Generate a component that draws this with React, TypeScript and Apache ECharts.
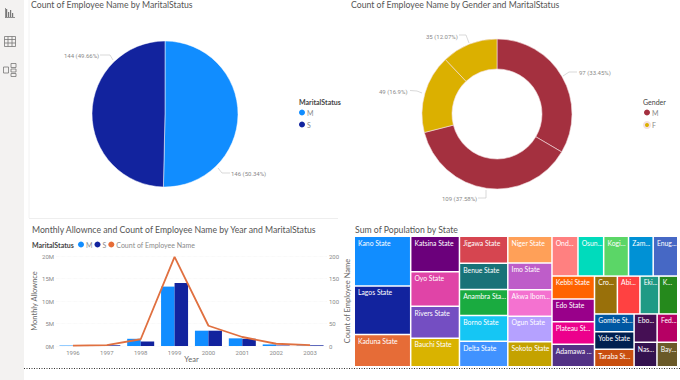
import React, { useEffect, useRef } from "react";
import * as echarts from "echarts";

const FONT = "Lato";
const NUM_FONT = "Roboto";
const TITLE_COLOR = "#555555";
const LABEL_COLOR = "#8a8a8a";
const LEADER_COLOR = "#c8c8c8";

const maritalNames = ["M", "S"];
const maritalCounts = [146, 144];
const maritalColors = ["#118dff", "#12239e"];

const genderNames = ["M", "M ", "F", "F "];
const genderCounts = [97, 109, 49, 35];
const genderColors = ["#a4303f", "#a4303f", "#dbb000", "#dbb000"];

const years = ["1996", "1997", "1998", "1999", "2000", "2001", "2002", "2003"];
const allowanceM = [100000, 50000, 1600000, 13200000, 3400000, 1700000, 350000, 100000];
const allowanceS = [0, 150000, 1000000, 14000000, 3400000, 1600000, 100000, 150000];
const employeeCount = [1, 2, 15, 198, 45, 20, 5, 2];

const stateNames = ["Kano State", "Lagos State", "Kaduna State", "Katsina State", "Oyo State", "Rivers State", "Bauchi State", "Jigawa State", "Benue State", "Anambra State", "Borno State", "Delta State", "Niger State", "Imo State", "Akwa Ibom State", "Ogun State", "Sokoto State", "Ondo State", "Osun State", "Kogi State", "Zamfara State", "Enugu State", "Kebbi State", "Edo State", "Plateau State", "Adamawa State", "Cross River State", "Abia State", "Ekiti State", "Kwara State", "Gombe State", "Yobe State", "Taraba State", "Ebonyi State", "Federal Capital Territory", "Nasarawa State", "Bayelsa State"];
const statePopulation = [9400000, 9100000, 6100000, 5800000, 5600000, 5200000, 4650000, 4360000, 4250000, 4180000, 4170000, 4110000, 3950000, 3930000, 3920000, 3750000, 3700000, 3460000, 3420000, 3310000, 3280000, 3270000, 3260000, 3230000, 3200000, 3180000, 2890000, 2850000, 2400000, 2380000, 2360000, 2320000, 2300000, 2180000, 1950000, 1870000, 1700000];
const stateColors = ["#118dff", "#12239e", "#e66c37", "#6b007b", "#e044a7", "#744ec2", "#d9b300", "#d64550", "#197278", "#1aab40", "#15c6f4", "#4092ff", "#ffa058", "#be5dc9", "#f472d0", "#b5a1ff", "#c4a200", "#ff8080", "#00dbbc", "#5bd667", "#0091d5", "#4668c5", "#ff6300", "#99008a", "#ec008c", "#533285", "#99700a", "#ff4141", "#1f9a85", "#25891c", "#0057a2", "#002050", "#c94f0f", "#450f54", "#b60064", "#34124f", "#6a5a29"];

const leftLabelPos = [{ x: 231, y: 173 }, { x: 64, y: 55 }];
const rightLabelPos = [{ x: 579, y: 72 }, { x: 442, y: 198 }, { x: 379, y: 91 }, { x: 426, y: 36 }];

const leaderLines = [
  [[100, 55], [110, 55], [113, 60]],
  [[218, 168], [222, 173], [230, 173]],
  [[563, 76], [569, 72], [577, 72]],
  [[478, 198], [486, 198], [486, 190]],
  [[410, 90.5], [417, 91], [422, 93]],
  [[459, 35], [466, 35], [469, 43]],
];

const titles = [
  { text: "Count of Employee Name by MaritalStatus", left: 31, top: 0 },
  { text: "Count of Employee Name by Gender and MaritalStatus", left: 351, top: 0 },
  { text: "Monthly Allownce and Count of Employee Name by Year and MaritalStatus", left: 32, top: 225 },
  { text: "Sum of Population by State", left: 355, top: 225 },
];

const iconStroke = { stroke: "#777777", lineWidth: 0.8, fill: "none" };

function sidebarIcons() {
  const els: any[] = [];
  [[6, 8], [8, 5], [10, 7], [12, 4]].forEach(([x, h]) =>
    els.push({ type: "rect", silent: true, shape: { x, y: 17 - h, width: 1.2, height: h }, style: { fill: "#777777" } }));
  els.push({ type: "line", silent: true, shape: { x1: 5, y1: 17.5, x2: 15, y2: 17.5 }, style: iconStroke });
  els.push({ type: "line", silent: true, shape: { x1: 5.5, y1: 8, x2: 5.5, y2: 17.5 }, style: iconStroke });
  els.push({ type: "rect", silent: true, shape: { x: 4.5, y: 36.5, width: 11, height: 10 }, style: iconStroke });
  [39.5, 43].forEach((y) => els.push({ type: "line", silent: true, shape: { x1: 4.5, y1: y, x2: 15.5, y2: y }, style: iconStroke }));
  [8, 12].forEach((x) => els.push({ type: "line", silent: true, shape: { x1: x, y1: 36.5, x2: x, y2: 46.5 }, style: iconStroke }));
  [[3.5, 67, 5, 6], [11, 63.5, 5, 4], [11, 69, 5, 3], [11, 73.5, 5, 3]].forEach(([x, y, width, height]) =>
    els.push({ type: "rect", silent: true, shape: { x, y, width, height }, style: iconStroke }));
  return els;
}

export default function App() {
  const ref = useRef<HTMLDivElement>(null);
  useEffect(() => {
    const chart = echarts.init(ref.current!, undefined, { renderer: "svg" });
    const pieLabel = { formatter: "{c} ({d}%)", fontSize: 6, width: 50, color: LABEL_COLOR, fontFamily: NUM_FONT };
    const legendBase = { orient: "vertical", icon: "circle", padding: 0, itemWidth: 6, itemHeight: 6, itemGap: 5, textStyle: { fontSize: 7, color: LABEL_COLOR, fontFamily: FONT, padding: [0, 0, 0, -3] }, selectedMode: false };
    chart.setOption({
      animation: false,
      backgroundColor: "#ffffff",
      textStyle: { fontFamily: FONT },
      title: [
        ...titles.map((t) => ({ ...t, padding: 0, textStyle: { fontSize: 8.7, fontWeight: "normal", color: TITLE_COLOR, fontFamily: FONT } })),
        ...[{ text: "MaritalStatus", left: 299, top: 98 }, { text: "Gender", left: 643, top: 98 }, { text: "MaritalStatus", left: 32, top: 241 }].map((t, i) => ({
          ...t, padding: 0, textStyle: { fontSize: 7, fontWeight: i === 1 ? "normal" : "bold", color: "#444444", fontFamily: FONT },
        })),
      ],
      legend: [
        { ...legendBase, left: 299, top: 109, data: [{ name: "M", itemStyle: { color: maritalColors[0] } }, { name: "S", itemStyle: { color: maritalColors[1] } }] },
        { ...legendBase, left: 643, top: 109, data: [{ name: "M", itemStyle: { color: "#a4303f" } }, { name: "F", itemStyle: { color: "#dbb000" } }] },
        { ...legendBase, orient: "horizontal", left: 78, top: 241, itemGap: 2, data: [{ name: "M", itemStyle: { color: maritalColors[0] } }, { name: "S", itemStyle: { color: maritalColors[1] } }, { name: "Count of Employee Name", itemStyle: { color: "#e66c37" } }] },
      ],
      grid: { left: 56, top: 256, width: 271, height: 90 },
      xAxis: {
        type: "category", data: years, name: "Year", nameLocation: "middle", nameGap: 9,
        nameTextStyle: { fontSize: 7.5, color: "#666666", fontFamily: FONT },
        axisLine: { show: false }, axisTick: { show: false },
        axisLabel: { fontSize: 6, color: LABEL_COLOR, margin: 3, fontFamily: NUM_FONT },
      },
      yAxis: [
        {
          type: "value", min: 0, max: 20000000, interval: 5000000, name: "Monthly Allownce", nameLocation: "middle", nameGap: 7,
          nameTextStyle: { fontSize: 7.5, color: "#666666", fontFamily: FONT },
          axisLabel: { fontSize: 6, color: LABEL_COLOR, fontFamily: NUM_FONT, margin: 2, formatter: (v: number) => `${v / 1000000}M` },
          splitLine: { lineStyle: { color: "#f0f0f0", type: "dotted", width: 0.6 } },
        },
        {
          type: "value", min: 0, max: 200, interval: 50, name: "Count of Employee Name", nameLocation: "middle", nameGap: 10,
          nameTextStyle: { fontSize: 7.5, color: "#666666", fontFamily: FONT },
          axisLabel: { fontSize: 6, color: LABEL_COLOR, fontFamily: NUM_FONT, margin: 2 },
          splitLine: { show: false },
        },
      ],
      graphic: [
        { type: "rect", silent: true, z: -1, shape: { x: 0, y: 0, width: 24, height: 380 }, style: { fill: "#f3f2f1" } },
        { type: "line", silent: true, shape: { x1: 29, y1: 218.5, x2: 338, y2: 218.5 }, style: { stroke: "#eeeeee", lineWidth: 1 } },
        { type: "line", silent: true, shape: { x1: 29, y1: 0, x2: 29, y2: 218 }, style: { stroke: "#f2f2f2", lineWidth: 1 } },
        { type: "line", silent: true, shape: { x1: 24, y1: 368.5, x2: 680, y2: 368.5 }, style: { stroke: "#333333", lineWidth: 1, lineDash: [1, 1.5] } },
        ...leaderLines.map((points) => ({ type: "polyline", silent: true, shape: { points }, style: { stroke: LEADER_COLOR, lineWidth: 0.7, fill: "none" } })),
        ...sidebarIcons(),
      ],
      series: [
        {
          type: "pie", name: "Marital", center: [165, 114], radius: [0, 73], startAngle: 90, clockwise: true, percentPrecision: 2,
          label: pieLabel, labelLine: { show: false },
          labelLayout: (p: any) => ({ x: leftLabelPos[p.dataIndex].x, y: leftLabelPos[p.dataIndex].y, align: "left", verticalAlign: "middle" }),
          itemStyle: { borderColor: "#ffffff", borderWidth: 0.5 },
          data: maritalNames.map((name, i) => ({ name, value: maritalCounts[i], itemStyle: { color: maritalColors[i] } })),
        },
        {
          type: "pie", name: "Gender", center: [497, 114], radius: [45, 75], startAngle: 90, clockwise: true, percentPrecision: 2,
          label: pieLabel, labelLine: { show: false },
          labelLayout: (p: any) => ({ x: rightLabelPos[p.dataIndex].x, y: rightLabelPos[p.dataIndex].y, align: "left", verticalAlign: "middle" }),
          itemStyle: { borderColor: "#f4dfe0", borderWidth: 0.6 },
          data: genderNames.map((name, i) => ({ name, value: genderCounts[i], itemStyle: { color: genderColors[i] } })),
        },
        { type: "bar", name: "M", data: allowanceM, barWidth: 13.5, barGap: 0, itemStyle: { color: maritalColors[0] } },
        { type: "bar", name: "S", data: allowanceS, barWidth: 13.5, barGap: 0, itemStyle: { color: maritalColors[1] } },
        { type: "line", name: "Count of Employee Name", yAxisIndex: 1, data: employeeCount, showSymbol: false, lineStyle: { color: "#e07040", width: 1.8 }, itemStyle: { color: "#e66c37" } },
        {
          type: "treemap", left: 355, top: 237, width: 322, height: 129, roam: false, nodeClick: false, silent: true,
          breadcrumb: { show: false }, sort: "desc",
          label: { show: true, position: "insideTopLeft", fontSize: 6.8, color: "#ffffff", fontFamily: FONT, distance: 2, padding: [0, 1, 0, 1], overflow: "truncate", ellipsis: "..." },
          itemStyle: { gapWidth: 1.5, borderWidth: 0 },
          levels: [{ itemStyle: { gapWidth: 1.5, borderWidth: 0 } }],
          data: stateNames.map((name, i) => ({ name, value: statePopulation[i], itemStyle: { color: stateColors[i] } })),
        },
      ],
    });
    return () => chart.dispose();
  }, []);
  return <div ref={ref} style={{ position: "absolute", left: 0, top: 0, width: 680, height: 380 }} />;
}
